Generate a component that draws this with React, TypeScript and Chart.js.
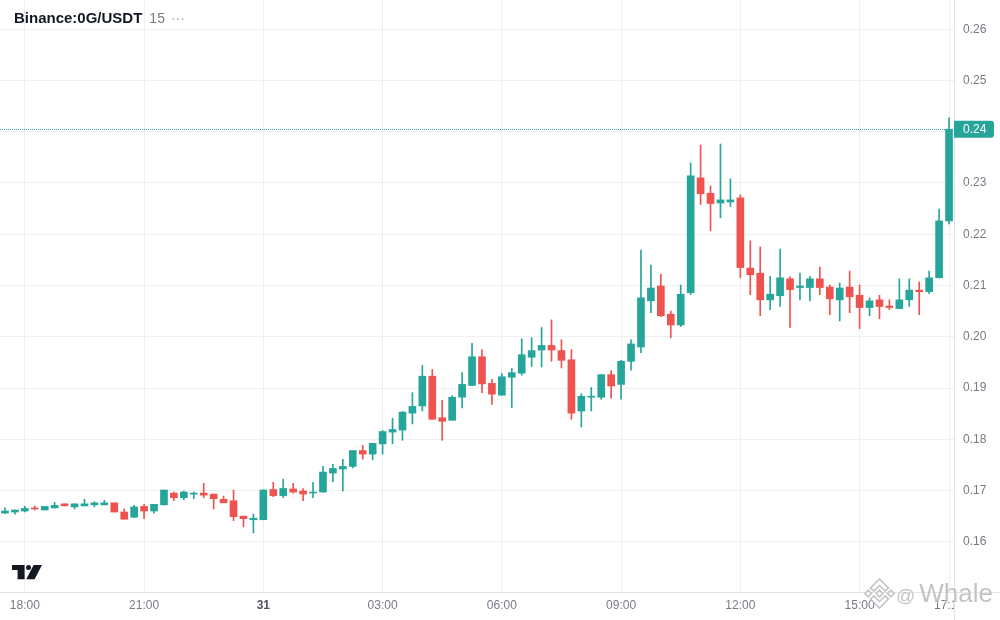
import React, { useEffect, useRef } from "react";
import { Chart, registerables } from "chart.js";

Chart.register(...registerables);

// ---- data (15-minute candles, 17:30 -> 17:15 next day) ----
const START_MIN = 17 * 60 + 30;
const categories: string[] = Array.from({ length: 96 }, (_, i) => {
  const m = (START_MIN + i * 15) % 1440;
  return `${String(Math.floor(m / 60)).padStart(2, "0")}:${String(m % 60).padStart(2, "0")}`;
});

const opens = [
  0.1656, 0.1658, 0.1660, 0.1666, 0.1662, 0.1666, 0.1674, 0.1668, 0.1670, 0.1672, 0.1672, 0.1676,
  0.1658, 0.1648, 0.1669, 0.1660, 0.1672, 0.1695, 0.1686, 0.1693, 0.1695, 0.1693, 0.1683, 0.1680,
  0.1650, 0.1643, 0.1643, 0.1702, 0.1690, 0.1703, 0.1699, 0.1695, 0.1697, 0.1734, 0.1742, 0.1747,
  0.1778, 0.1771, 0.1791, 0.1814, 0.1818, 0.1851, 0.1865, 0.1923, 0.1842, 0.1837, 0.1882, 0.1905,
  0.1961, 0.1909, 0.1886, 0.1921, 0.1929, 0.1960, 0.1974, 0.1983, 0.1973, 0.1955, 0.1855, 0.1882,
  0.1882, 0.1926, 0.1907, 0.1952, 0.1980, 0.2070, 0.2099, 0.2044, 0.2023, 0.2086, 0.2310, 0.2280,
  0.2261, 0.2263, 0.2271, 0.2134, 0.2124, 0.2072, 0.2080, 0.2113, 0.2096, 0.2096, 0.2113, 0.2097,
  0.2072, 0.2097, 0.2081, 0.2057, 0.2072, 0.2060, 0.2055, 0.2072, 0.2091, 0.2088, 0.2115, 0.2226,
];
const highs = [
  0.1666, 0.1662, 0.1669, 0.1670, 0.1669, 0.1677, 0.1674, 0.1674, 0.1683, 0.1678, 0.1681, 0.1676,
  0.1664, 0.1671, 0.1673, 0.1673, 0.1701, 0.1697, 0.1699, 0.1697, 0.1714, 0.1693, 0.1689, 0.1701,
  0.1650, 0.1654, 0.1701, 0.1716, 0.1722, 0.1714, 0.1704, 0.1716, 0.1747, 0.1751, 0.1761, 0.1778,
  0.1788, 0.1792, 0.1817, 0.1841, 0.1854, 0.1891, 0.1944, 0.1936, 0.1876, 0.1885, 0.1930, 0.1987,
  0.1975, 0.1917, 0.1928, 0.1938, 0.1996, 0.1998, 0.2018, 0.2033, 0.1994, 0.1975, 0.1889, 0.1901,
  0.1926, 0.1934, 0.1954, 0.1994, 0.2169, 0.2140, 0.2122, 0.2050, 0.2101, 0.2339, 0.2374, 0.2294,
  0.2376, 0.2308, 0.2277, 0.2187, 0.2175, 0.2118, 0.2171, 0.2117, 0.2124, 0.2118, 0.2136, 0.2101,
  0.2105, 0.2128, 0.2101, 0.2076, 0.2081, 0.2072, 0.2113, 0.2113, 0.2107, 0.2128, 0.2249, 0.2427,
];
const lows = [
  0.1655, 0.1654, 0.1658, 0.1662, 0.1662, 0.1666, 0.1670, 0.1664, 0.1670, 0.1668, 0.1672, 0.1658,
  0.1644, 0.1647, 0.1645, 0.1656, 0.1672, 0.1680, 0.1682, 0.1684, 0.1686, 0.1664, 0.1676, 0.1641,
  0.1629, 0.1617, 0.1643, 0.1688, 0.1686, 0.1695, 0.1680, 0.1686, 0.1697, 0.1717, 0.1699, 0.1744,
  0.1761, 0.1760, 0.1771, 0.1791, 0.1798, 0.1830, 0.1855, 0.1839, 0.1798, 0.1837, 0.1861, 0.1905,
  0.1891, 0.1868, 0.1886, 0.1862, 0.1925, 0.1942, 0.1941, 0.1952, 0.1939, 0.1839, 0.1824, 0.1855,
  0.1878, 0.1880, 0.1878, 0.1935, 0.1969, 0.2047, 0.2039, 0.1998, 0.2020, 0.2082, 0.2258, 0.2207,
  0.2232, 0.2254, 0.2115, 0.2082, 0.2041, 0.2053, 0.2059, 0.2018, 0.2072, 0.2070, 0.2082, 0.2043,
  0.2031, 0.2047, 0.2016, 0.2041, 0.2035, 0.2053, 0.2055, 0.2059, 0.2043, 0.2084, 0.2115, 0.2220,
];
const closes = [
  0.1660, 0.1662, 0.1665, 0.1664, 0.1669, 0.1671, 0.1670, 0.1674, 0.1674, 0.1676, 0.1676, 0.1658,
  0.1644, 0.1668, 0.1660, 0.1673, 0.1701, 0.1686, 0.1697, 0.1695, 0.1691, 0.1684, 0.1676, 0.1649,
  0.1645, 0.1646, 0.1701, 0.1690, 0.1704, 0.1697, 0.1693, 0.1697, 0.1736, 0.1743, 0.1747, 0.1778,
  0.1771, 0.1792, 0.1815, 0.1819, 0.1853, 0.1864, 0.1923, 0.1839, 0.1835, 0.1882, 0.1907, 0.1961,
  0.1908, 0.1888, 0.1922, 0.1930, 0.1965, 0.1973, 0.1983, 0.1974, 0.1954, 0.1851, 0.1884, 0.1884,
  0.1926, 0.1904, 0.1952, 0.1986, 0.2076, 0.2095, 0.2041, 0.2023, 0.2083, 0.2314, 0.2279, 0.2260,
  0.2267, 0.2267, 0.2135, 0.2121, 0.2072, 0.2083, 0.2115, 0.2092, 0.2099, 0.2113, 0.2096, 0.2074,
  0.2095, 0.2078, 0.2057, 0.2070, 0.2059, 0.2057, 0.2072, 0.2091, 0.2088, 0.2115, 0.2226, 0.2405,
];

const yTicks = [0.16, 0.17, 0.18, 0.19, 0.2, 0.21, 0.22, 0.23, 0.24, 0.25, 0.26];
const xTickLabels: Record<string, string> = {
  "18:00": "18:00",
  "21:00": "21:00",
  "00:00": "31",
  "03:00": "03:00",
  "06:00": "06:00",
  "09:00": "09:00",
  "12:00": "12:00",
  "15:00": "15:00",
  "17:15": "17:15",
};
const Y_MIN = 0.1502;
const Y_MAX = 0.2657;

// ---- style ----
const UP = "#26a69a";
const DOWN = "#ef5350";
const GRID = "#efefef";
const BORDER = "#e0e3eb";
const TEXT = "#787b86";
const FONT = '"Liberation Sans", Arial, sans-serif';

const lastClose = closes[closes.length - 1];
const candleColor = (i: number) => (closes[i] >= opens[i] ? UP : DOWN);

const decorPlugin = {
  id: "decor",
  beforeDatasetsDraw(chart: any) {
    const { ctx, chartArea, scales } = chart;
    const y = Math.round(scales.y.getPixelForValue(lastClose)) + 0.5;
    ctx.save();
    ctx.strokeStyle = UP;
    ctx.lineWidth = 1;
    ctx.setLineDash([1, 1]);
    ctx.beginPath();
    ctx.moveTo(chartArea.left, y);
    ctx.lineTo(chartArea.right, y);
    ctx.stroke();
    ctx.restore();
  },
  afterDraw(chart: any) {
    const { ctx, chartArea, scales, width, height } = chart;
    ctx.save();
    const rx = Math.round(chartArea.right) + 0.5;
    const by = Math.round(chartArea.bottom) + 0.5;
    // time label under the price scale is hidden by the price scale
    ctx.fillStyle = "#ffffff";
    ctx.fillRect(rx, by, width - rx, height - by);
    // pane borders
    ctx.strokeStyle = BORDER;
    ctx.lineWidth = 1;
    ctx.beginPath();
    ctx.moveTo(0, by);
    ctx.lineTo(width, by);
    ctx.moveTo(rx, 0);
    ctx.lineTo(rx, height);
    ctx.stroke();
    // last price label
    const y = scales.y.getPixelForValue(lastClose);
    ctx.fillStyle = UP;
    ctx.beginPath();
    if ((ctx as any).roundRect) (ctx as any).roundRect(rx - 0.5, y - 8.5, 40, 17, [0, 3, 3, 0]);
    else ctx.rect(rx - 0.5, y - 8.5, 40, 17);
    ctx.fill();
    ctx.fillStyle = "#ffffff";
    ctx.font = `12px ${FONT}`;
    ctx.textAlign = "left";
    ctx.textBaseline = "middle";
    ctx.fillText(lastClose.toFixed(2), rx + 8.5, y + 0.5);
    ctx.restore();
  },
};

export default function App() {
  const canvasRef = useRef<HTMLCanvasElement | null>(null);

  useEffect(() => {
    if (!canvasRef.current) return;
    const chart = new Chart(canvasRef.current, {
      type: "bar",
      data: {
        labels: categories,
        datasets: [
          {
            label: "body",
            data: opens.map((o, i) => [o, closes[i]]) as any,
            backgroundColor: (c: any) => candleColor(c.dataIndex),
            barThickness: 7,
            minBarLength: 1,
            borderWidth: 0,
          },
          {
            label: "wick",
            data: lows.map((l, i) => [l, highs[i]]) as any,
            backgroundColor: (c: any) => candleColor(c.dataIndex),
            barThickness: 1,
            borderWidth: 0,
          },
        ],
      },
      options: {
        animation: false,
        responsive: true,
        maintainAspectRatio: false,
        layout: { padding: 0 },
        datasets: { bar: { grouped: false } } as any,
        plugins: {
          legend: { display: false },
          tooltip: { enabled: false },
          title: { display: false },
        },
        scales: {
          x: {
            type: "category",
            offset: true,
            grid: {
              offset: false,
              drawTicks: false,
              lineWidth: 1,
              color: (c: any) =>
                c.index !== undefined && xTickLabels[categories[c.index]] ? GRID : "rgba(0,0,0,0)",
            },
            border: { display: false },
            ticks: {
              autoSkip: false,
              maxRotation: 0,
              minRotation: 0,
              padding: 6,
              color: (c: any) => (categories[c.index] === "00:00" ? "#50535e" : TEXT),
              font: (c: any) => ({
                family: FONT,
                size: 12,
                weight: categories[c.index] === "00:00" ? "bold" : "normal",
              }),
              callback: (_v: any, i: number) => xTickLabels[categories[i]] ?? "",
            },
            afterFit: (s: any) => {
              s.height = 28;
              s.paddingLeft = 0;
              s.paddingRight = 0;
            },
          },
          y: {
            type: "linear",
            position: "right",
            min: Y_MIN,
            max: Y_MAX,
            grid: { drawTicks: false, color: GRID, lineWidth: 1 },
            border: { display: false },
            ticks: {
              padding: 9,
              color: TEXT,
              font: { family: FONT, size: 12 },
              callback: (v: any) => Number(v).toFixed(2),
            },
            afterBuildTicks: (s: any) => {
              s.ticks = yTicks.map((v) => ({ value: v }));
            },
            afterFit: (s: any) => {
              s.width = 46;
              s.paddingTop = 0;
              s.paddingBottom = 0;
            },
          },
        },
      },
      plugins: [decorPlugin],
    });
    return () => chart.destroy();
  }, []);

  return (
    <div
      style={{
        position: "absolute",
        left: 0,
        top: 0,
        width: 1000,
        height: 620,
        background: "#ffffff",
        overflow: "hidden",
        fontFamily: FONT,
      }}
    >
      <canvas ref={canvasRef} style={{ position: "absolute", left: 0, top: 0 }} />
      <div
        style={{
          position: "absolute",
          left: 14,
          top: 8,
          lineHeight: "20px",
          whiteSpace: "nowrap",
        }}
      >
        <span style={{ fontWeight: "bold", fontSize: 15, color: "#131722" }}>Binance:0G/USDT</span>
        <span style={{ fontSize: 14, color: TEXT, marginLeft: 7 }}>15</span>
        <span style={{ fontSize: 14, color: "#8ca0b8", marginLeft: 6 }}>···</span>
      </div>
      <svg
        width="30"
        height="15"
        viewBox="0 0 30 15"
        style={{ position: "absolute", left: 12, top: 565 }}
      >
        <path d="M0 0 H12.6 V14.3 H5.6 V5 H0 Z" fill="#131722" />
        <circle cx="16.5" cy="2.5" r="2.5" fill="#131722" />
        <path d="M21.6 0 H30 L22.6 14.3 H14.3 Z" fill="#131722" />
      </svg>
      <svg
        width="31"
        height="31"
        viewBox="-4 -4 134.6 134.6"
        style={{ position: "absolute", left: 864, top: 578 }}
      >
        <g fill="rgba(255,255,255,0.6)" stroke="#c4c4c4" strokeWidth="7">
          <path d="M38.73 53.2 L63.3 28.64 L87.89 53.23 L102.19 38.93 L63.3 0 L24.42 38.88 Z" />
          <path d="M0 63.31 L14.3 49 L28.6 63.3 L14.3 77.6 Z" />
          <path d="M38.73 73.41 L63.3 97.97 L87.88 73.39 L102.19 87.69 L63.3 126.61 L24.41 87.73 Z" />
          <path d="M98 63.31 L112.3 49 L126.61 63.3 L112.3 77.61 Z" />
          <path d="M77.83 63.3 L63.3 48.76 L48.76 63.3 L63.3 77.83 Z" />
        </g>
      </svg>
      <div
        style={{
          position: "absolute",
          left: 896,
          top: 580,
          lineHeight: "26px",
          whiteSpace: "nowrap",
          color: "rgba(170,170,170,0.7)",
          textShadow: "0 0 2px rgba(255,255,255,0.9)",
        }}
      >
        <span style={{ fontSize: 19 }}>@</span>
        <span style={{ fontSize: 26, marginLeft: 4 }}>Whale</span>
      </div>
    </div>
  );
}
